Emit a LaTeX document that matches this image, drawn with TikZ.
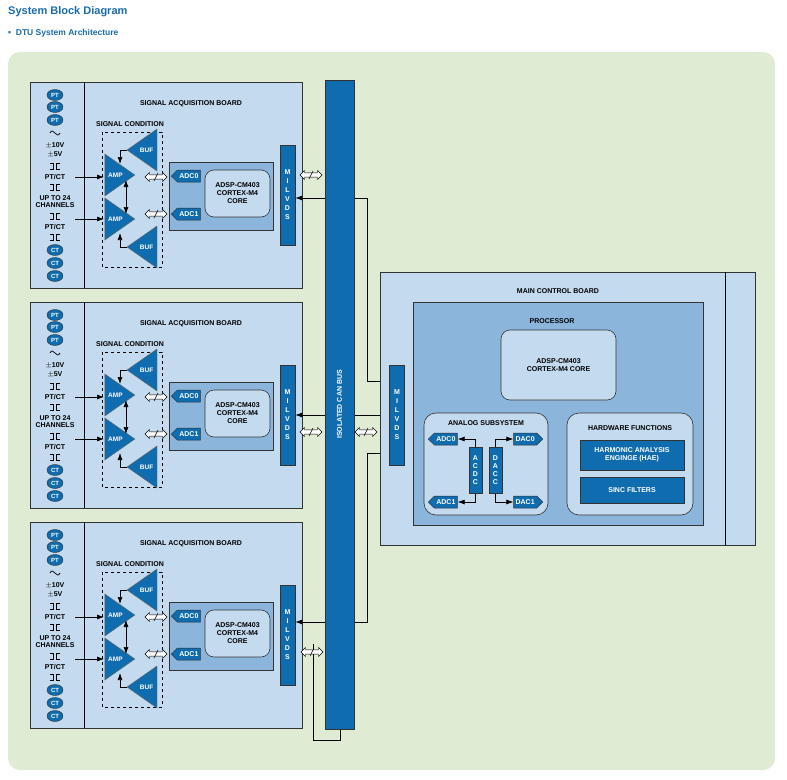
\documentclass[tikz,border=0pt]{standalone}
\usepackage{fontspec}
\setmainfont{Liberation Sans}
\usepackage{tikz}
\usetikzlibrary{calc, positioning, shapes.geometric, shapes.symbols, shapes.arrows, arrows.meta}

\definecolor{bggreen}{HTML}{DFEBD2}
\definecolor{boardblue}{HTML}{C4DAEE}
\definecolor{procblue}{HTML}{8CB5DB}
\definecolor{darkblue}{HTML}{0F6CAE}
\definecolor{titleblue}{HTML}{1A6BB0}

\newcommand{\capsym}[1]{% capacitor-like glyph
  \draw[line width=0.6pt] ($(#1)+(-5,-3)$) -- ($(#1)+(-1.5,-3)$) -- ($(#1)+(-1.5,3)$) -- ($(#1)+(-5,3)$)
        ($(#1)+(5,-3)$) -- ($(#1)+(1.5,-3)$) -- ($(#1)+(1.5,3)$) -- ($(#1)+(5,3)$);}

\begin{document}
\begin{tikzpicture}[x=1pt,y=-1pt,
    every node/.style={font=\fontsize{7}{8}\selectfont\bfseries, inner sep=0pt},
    board/.style={draw=black!80, fill=boardblue, line width=0.8pt},
    bar/.style={draw=black!80, fill=darkblue, text=white, line width=0.6pt},
    tag/.style={signal, signal to=west, draw=black!80, fill=darkblue, text=white, minimum height=12pt, inner xsep=2pt, line width=0.5pt},
    rtag/.style={tag, signal to=east},
    pin/.style={ellipse, draw=black!80, fill=darkblue, text=white, minimum width=16pt, minimum height=11pt, font=\fontsize{6}{7}\selectfont\bfseries},
    amp/.style={isosceles triangle, isosceles triangle apex angle=70, draw=black!60, fill=darkblue, text=white, minimum height=30pt, minimum width=30pt, inner sep=0pt, font=\fontsize{6.5}{7}\selectfont\bfseries},
    buf/.style={amp, shape border rotate=180},
    core/.style={rounded corners=9pt, draw=black!80, fill=boardblue, align=center, line width=0.6pt},
    dblarr/.style={double arrow, draw=black, fill=white, minimum height=22pt, minimum width=9pt, double arrow head extend=2pt, inner sep=1.5pt},
    sig/.style={-{Latex[length=7pt,width=5pt]}, line width=0.7pt},
    bisig/.style={{Latex[length=7pt,width=5pt]}-{Latex[length=7pt,width=5pt]}, line width=0.7pt}]

  \useasboundingbox (0,0) rectangle (787,779);
  \fill[white] (0,0) rectangle (787,779);
  \node[anchor=west, text=titleblue, font=\fontsize{11}{12}\selectfont\bfseries] (title) at (8,12) {System Block Diagram};
  \node[anchor=west, text=titleblue, font=\fontsize{8.5}{10}\selectfont\bfseries] (subtitle) at (8,33) {\textbullet\ \ DTU System Architecture};
  \fill[bggreen, rounded corners=12pt] (8,52) rectangle (775,770);

  % acquisition boards
  \foreach \oy in {0,220,440} {
    \draw[board] (30,82+\oy) rectangle (302,288+\oy);
    \draw[line width=0.8pt] (84,82+\oy) -- (84,288+\oy);
    \foreach \py [count=\i] in {95,107,120} \node[pin] (pt\i-\oy) at (55,\py+\oy) {PT};
    \foreach \py [count=\i] in {250,263,276} \node[pin] (ct\i-\oy) at (55,\py+\oy) {CT};
    \draw[line width=0.7pt] (50,133+\oy) .. controls (53,126+\oy) and (57,140+\oy) .. (60,133+\oy);
    \node (v10-\oy) at (55,145+\oy) {$\pm$10V};
    \node (v5-\oy) at (55,155+\oy) {$\pm$5V};
    \capsym{55,166+\oy} \capsym{55,187+\oy} \capsym{55,216+\oy} \capsym{55,237+\oy}
    \node (in1-\oy) at (55,177+\oy) {PT/CT};
    \node[align=center] (ch-\oy) at (55,202+\oy) {UP TO 24\\[-1pt]CHANNELS};
    \node (in2-\oy) at (55,227+\oy) {PT/CT};

    \node (sab-\oy) at (191,104+\oy) {SIGNAL ACQUISITION BOARD};
    \node (sc-\oy) at (130,124+\oy) {SIGNAL CONDITION};
    \draw[dashed, line width=0.6pt] (102,132+\oy) rectangle (162,267+\oy);
    \node[amp] (amp1-\oy) at (117,175+\oy) {AMP\,\,\,};
    \node[amp] (amp2-\oy) at (117,219+\oy) {AMP\,\,\,};
    \node[buf] (buf1-\oy) at (145,150+\oy) {\,\,\,BUF};
    \node[buf] (buf2-\oy) at (145,247+\oy) {\,\,\,BUF};
    \coordinate (in1e-\oy) at (75,177+\oy);
    \coordinate (in2e-\oy) at (75,219+\oy);
    \draw[sig] (in1e-\oy) -- (104,177+\oy);
    \draw[sig] (in2e-\oy) -- (104,219+\oy);
    \draw[sig] (buf1-\oy.apex) -| (120,164+\oy);
    \draw[sig] (buf2-\oy.apex) -| (120,233+\oy);
    \draw[bisig] (126,180+\oy) -- (126,214+\oy);

    \draw[board, fill=procblue, line width=0.7pt] (169,162+\oy) rectangle (273,230+\oy);
    \node[tag, anchor=west] (adc0-\oy) at (171,176+\oy) {ADC0};
    \node[tag, anchor=west] (adc1-\oy) at (171,214+\oy) {ADC1};
    \node[core, minimum width=65pt, minimum height=47pt] (core-\oy) at (237.5,193.5+\oy) {ADSP-CM403\\CORTEX-M4\\CORE};
    \node[dblarr] (ha1-\oy) at (156,177+\oy) {};
    \node[dblarr] (ha2-\oy) at (156,214+\oy) {};
    \node[bar, minimum width=15pt, minimum height=100pt, align=center] (mil-\oy) at (287.5,195+\oy) {M\\[1pt]I\\[1pt]L\\[1pt]V\\[1pt]D\\[1pt]S};
    \draw[line width=0.5pt] ($(ha1-\oy)+(-2,4)$) -- ($(ha1-\oy)+(2,-4)$);
    \draw[line width=0.5pt] ($(ha2-\oy)+(-2,4)$) -- ($(ha2-\oy)+(2,-4)$);
  }

  % links from the bus side
  \coordinate (j1) at (367,198);
  \coordinate (j2) at (367,381);
  \coordinate (j3) at (367,453);
  \coordinate (j4) at (367,622);
  \draw[sig] (j1) -- (mil-0.east |- j1);
  \draw[sig] (j1) -- (j2) -- (390,381);
  \draw[sig] (j3) -- (390,453);
  \draw (j3) -- (j4) -- (340,622);
  \draw[sig] (340,622) -- (mil-440.east |- j4);
  \draw[sig] (340,415) -- (mil-220.east |- 0,415);
  \draw[sig] (340,415) -- (390,415);
  \draw[line width=0.8pt] (313,644) -- (313,740) -- (340,740) -- (340,729);

  % isolated CAN bus
  \node[bar, line width=0.8pt, minimum width=29pt, minimum height=649pt] (bus) at (339.5,404.5) {};
  \node[rotate=90, text=white] (buslbl) at (bus.center) {ISOLATED CAN BUS};

  \foreach \hy/\hx [count=\i] in {175/311, 432/311, 652/312, 432/366} {
    \node[dblarr] (hb\i) at (\hx,\hy) {};
    \draw[line width=0.5pt] ($(hb\i)+(-2,4)$) -- ($(hb\i)+(2,-4)$);
  }

  % main control board
  \draw[board] (380,272) rectangle (755,545);
  \draw[line width=0.8pt] (725,272) -- (725,545);
  \node (mcb) at (558,291) {MAIN CONTROL BOARD};
  \draw[board, fill=procblue] (413,302) rectangle (703,525);
  \node (proc) at (552,321) {PROCESSOR};
  \node[core, minimum width=115pt, minimum height=70pt] (mcore) at (558.5,365) {ADSP-CM403\\CORTEX-M4 CORE};
  \node[bar, minimum width=15pt, minimum height=100pt, align=center] (mmil) at (397,415) {M\\[1pt]I\\[1pt]L\\[1pt]V\\[1pt]D\\[1pt]S};

  \draw[core, rounded corners=12pt] (424,413) rectangle (548,515);
  \node (ana) at (486,423) {ANALOG SUBSYSTEM};
  \node[tag, anchor=west] (madc0) at (428,439) {ADC0};
  \node[tag, anchor=west] (madc1) at (428,502) {ADC1};
  \node[rtag, anchor=east] (mdac0) at (543,439) {DAC0};
  \node[rtag, anchor=east] (mdac1) at (543,502) {DAC1};
  \node[bar, minimum width=13pt, minimum height=46pt, align=center] (adcc) at (475.5,470.5) {A\\C\\D\\C};
  \node[bar, minimum width=13pt, minimum height=46pt, align=center] (dacc) at (495.5,470.5) {D\\A\\C\\C};
  \draw[sig] (adcc.north) |- (madc0.east);
  \draw[sig] (adcc.south) |- (madc1.east);
  \draw[sig] (dacc.north) |- (mdac0.west);
  \draw[sig] (dacc.south) |- (mdac1.west);

  \draw[core, rounded corners=12pt] (567,413) rectangle (693,515);
  \node (hwf) at (630,428) {HARDWARE FUNCTIONS};
  \node[bar, minimum width=104pt, minimum height=30pt, align=center] (hae) at (632,455) {HARMONIC ANALYSIS\\ENGINGE (HAE)};
  \node[bar, minimum width=104pt, minimum height=26pt] (sinc) at (632,490) {SINC FILTERS};
\end{tikzpicture}
\end{document}
